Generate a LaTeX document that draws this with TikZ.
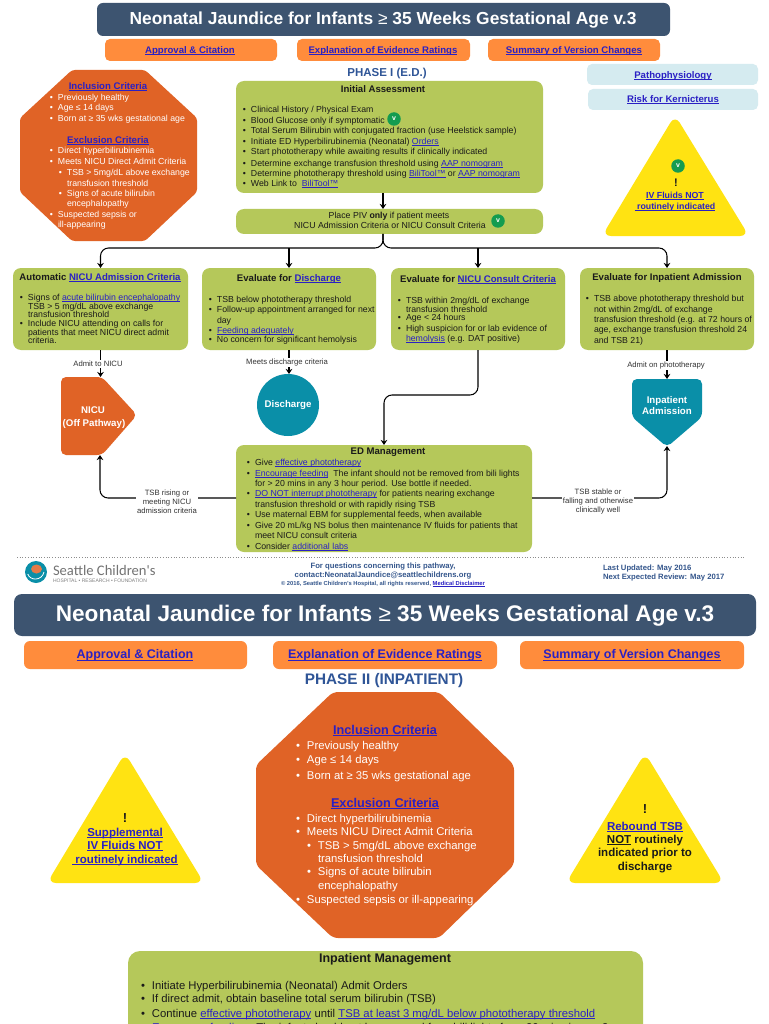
\documentclass[tikz,border=0pt]{standalone}
\usepackage{fontspec}
\setmainfont{Liberation Sans}
\newfontfamily\logofont{Carlito}
\usetikzlibrary{arrows.meta,fit,positioning,shapes.geometric}
\definecolor{gbox}{HTML}{B5C85A}
\definecolor{btn}{HTML}{FF8C3C}
\definecolor{octo}{HTML}{E06326}
\definecolor{ttl}{HTML}{3D5470}
\definecolor{teal}{HTML}{0A8FA8}
\definecolor{yel}{HTML}{FFE312}
\definecolor{lblue}{HTML}{D5EBF0}
\definecolor{lk}{HTML}{2A20C4}
\definecolor{phase}{HTML}{2F5597}
\definecolor{vgreen}{HTML}{149C50}
\definecolor{ink}{HTML}{1A1A1A}
\definecolor{foot}{HTML}{34568C}
\newcounter{tl}
\newcommand\fsz[1]{\fontsize{#1}{#1}\selectfont}
\newcommand\ulin[1]{\setbox0\hbox{#1}\rlap{\rule[-0.14em]{\wd0}{0.075em}}\box0 }
\newcommand\lnk[1]{\textcolor{lk}{\ulin{#1}}}
\newcommand\cen[1]{\smash{#1}\rule{0pt}{0.6em}}
\def\curf{\fsz{8.75}}
\newcommand\txC[4][]{\stepcounter{tl}\node[tx,#1] (t\arabic{tl}) at (#2,#3) {\cen{#4}};}
\newcommand\txL[4][]{\stepcounter{tl}\node[tx,anchor=west,#1] (t\arabic{tl}) at (#2,#3) {\cen{#4}};}
\newcommand\txB[4][]{\txL[#1]{#2}{#3}{\makebox[0pt][r]{•\hspace{\bulgap}}#4}}
\def\bulgap{5pt}
\newcommand\vmark[3]{\node[vcirc] (#1) at (#2,#3) {v};}
\tikzset{
  tx/.style={inner sep=0pt,outer sep=0pt,anchor=center,font=\curf,text=ink,yshift=-1.2pt},
  boxbase/.style={inner sep=0pt,outer sep=0pt,draw=none,rounded corners=#1},
  greenbox/.style={boxbase=8pt,fill=gbox},
  btnbox/.style={boxbase=5pt,fill=btn},
  btnboxb/.style={boxbase=6pt,fill=btn},
  bluebox/.style={boxbase=5pt,fill=lblue},
  titlebox/.style={boxbase=6pt,fill=ttl},
  titleboxb/.style={boxbase=8pt,fill=ttl},
  vcirc/.style={circle,fill=vgreen,text=white,inner sep=0pt,minimum size=13.5pt,font=\bfseries\fsz{7}},
  conn/.style={draw=black,line width=1.05pt,rounded corners=8pt,-{Stealth[length=5pt,width=6.5pt]}},
  lbl/.style={tx,fill=white,font=\fsz{7.7},text=black!80,align=center},
  shapeorange/.style={fill=octo,draw=none},
  shapeyel/.style={fill=yel,draw=none,rounded corners=9pt},
  shapeteal/.style={fill=teal,draw=none,rounded corners=5pt},
  ghost/.style={inner sep=0pt,outer sep=0pt,draw=none},
  ttxt/.style={tx,text=white,font=\bfseries\fsz{9.7}},
  wt/.style={text=white},
  hd/.style={font=\bfseries\fsz{9.6}},
  hdb/.style={font=\bfseries\fsz{12.5}},
  trib/.style={font=\bfseries\fsz{11.5}},
}
\begin{document}
\begin{tikzpicture}[x=1pt,y=-1pt]
\clip (0,0) rectangle (768,1024);
\fill[white] (0,0) rectangle (768,1024);

% ---------- Phase I header
\node[titlebox,fit={(97,3)(670,36)}] (title1) {};
\txC[text=white,font=\bfseries\fsz{17.4}]{383}{18}{Neonatal Jaundice for Infants {\mdseries ≥} 35 Weeks Gestational Age v.3}
\node[btnbox,fit={(105,39)(277,61)}] (b1) {};
\node[btnbox,fit={(297,39)(470,61)}] (b2) {};
\node[btnbox,fit={(488,39)(660,61)}] (b3) {};
\txC[hd]{190}{49}{\lnk{Approval \& Citation}}
\txC[hd]{383}{49}{\lnk{Explanation of Evidence Ratings}}
\txC[hd]{574}{49}{\lnk{Summary of Version Changes}}
\txC[text=phase,font=\bfseries\fsz{11.5}]{387}{71.5}{PHASE I (E.D.)}
\node[bluebox,fit={(587,64)(758,85)}] (patho) {};
\node[bluebox,fit={(588,89)(758,110)}] (risk) {};
\txC[hd]{673}{74}{\lnk{Pathophysiology}}
\txC[hd]{673}{98}{\lnk{Risk for Kernicterus}}

% ---------- Phase I octagon
\path[shapeorange,rounded corners=3pt] (72,70)--(145,70)--(197,118)--(197,192)--(145,241)--(72,241)--(20,192)--(20,118)--cycle;
\txC[hd]{108}{85}{\lnk{Inclusion Criteria}}
\txB[wt]{58}{97}{Previously healthy}
\txB[wt]{58}{107}{Age ≤ 14 days}
\txB[wt]{58}{118}{Born at ≥ 35 wks gestational age}
\txC[hd]{108}{139}{\lnk{Exclusion Criteria}}
\txB[wt]{58}{150}{Direct hyperbilirubinemia}
\txB[wt]{58}{161}{Meets NICU Direct Admit Criteria}
\txB[wt]{67}{172}{TSB > 5mg/dL above exchange}
\txL[wt]{67}{183}{transfusion threshold}
\txB[wt]{67}{193}{Signs of acute bilirubin}
\txL[wt]{67}{203}{encephalopathy}
\txB[wt]{58}{214}{Suspected sepsis or}
\txL[wt]{58}{224}{ill-appearing}

% ---------- Initial assessment
\node[greenbox,fit={(236,81)(543,193)}] (ia) {};
\txC[hd]{383}{88}{Initial Assessment}
\txB{251}{109}{Clinical History / Physical Exam}
\txB{251}{120}{Blood Glucose only if symptomatic}
\txB{251}{130}{Total Serum Bilirubin with conjugated fraction (use Heelstick sample)}
\txB{251}{141}{Initiate ED Hyperbilirubinemia (Neonatal) \lnk{Orders}}
\txB{251}{151}{Start phototherapy while awaiting results if clinically indicated}
\txB{251}{163}{Determine exchange transfusion threshold using \lnk{AAP nomogram}}
\txB{251}{173}{Determine phototherapy threshold using \lnk{BiliTool™} or \lnk{AAP nomogram}}
\txB{251}{183}{Web Link to\ \ \lnk{BiliTool™}}
\vmark{v1}{394}{119}

\node[greenbox,fit={(236,209)(543,234)}] (piv) {};
\txC{389}{215}{Place PIV \textbf{only} if patient meets}
\txC{390}{225}{NICU Admission Criteria or NICU Consult Criteria}
\vmark{v2}{498}{221}

% ---------- Phase I triangle
\path[shapeyel] (675,115)--(749,236)--(602,236)--cycle;
\node[ghost,fit={(607,119)(744,235)}] (tri1) {};
\vmark{v3}{678}{166}
\txC[font=\bfseries\fsz{11}]{676}{182}{!}
\txC[font=\bfseries\fsz{8.8}]{675}{195}{\lnk{IV Fluids NOT}}
\txC[font=\bfseries\fsz{8.8}]{675}{206}{\lnk{\ routinely indicated}}

% ---------- Four criteria boxes
\node[greenbox,fit={(13,268)(188,350)}] (auto) {};
\txC[hd]{100}{276}{Automatic \lnk{NICU Admission Criteria}}
\txB{28}{297}{Signs of \lnk{acute bilirubin encephalopathy}}
\txL{28}{306}{TSB > 5 mg/dL above exchange}
\txL{28}{314}{transfusion threshold}
\txB{28}{323}{Include NICU attending on calls for}
\txL{28}{332}{patients that meet NICU direct admit}
\txL{28}{340}{criteria.}

\node[greenbox,fit={(202,268)(376,350)}] (disc) {};
\txC[hd]{289}{277}{Evaluate for \lnk{Discharge}}
\txB{217}{299}{TSB below phototherapy threshold}
\txB{217}{309}{Follow-up appointment arranged for next}
\txL{217}{320}{day}
\txB{217}{330}{\lnk{Feeding adequately}}
\txB{217}{339}{No concern for significant hemolysis}

\node[greenbox,fit={(391,268)(565,350)}] (cons) {};
\txC[hd]{478}{278}{Evaluate for \lnk{NICU Consult Criteria}}
\txB{406}{300}{TSB within 2mg/dL of exchange}
\txL{406}{309}{transfusion threshold}
\txB{406}{317}{Age < 24 hours}
\txB{406}{328}{High suspicion for or lab evidence of}
\txL{406}{338}{\lnk{hemolysis} (e.g. DAT positive)}

\node[greenbox,fit={(580,268)(754,350)}] (inpt) {};
\txC[hd]{667}{276}{Evaluate for Inpatient Admission}
\txB{594}{298}{TSB above phototherapy threshold but}
\txL{594}{309}{not within 2mg/dL of exchange}
\txL{594}{319}{transfusion threshold (e.g. at 72 hours of}
\txL{594}{329}{age, exchange transfusion threshold 24}
\txL{594}{340}{and TSB 21)}

% ---------- Outcomes
\path[shapeorange,rounded corners=5pt] (61,377)--(102,377)--(137,415)--(102,455)--(61,455)--cycle;
\node[ghost,fit={(61,377)(137,455)}] (nicu) {};
\txC[ttxt]{93}{408}{NICU}
\txC[ttxt]{94}{421}{(Off Pathway)}

\node[circle,fill=teal,minimum size=62pt,inner sep=0pt,outer sep=0pt,text=white,font=\bfseries\fsz{9.7}] (dc) at (288,405) {Discharge};

\path[shapeteal] (632,379)--(702,379)--(702,417)--(667,447)--(632,417)--cycle;
\node[ghost,fit={(632,379)(702,446)}] (ipa) {};
\txC[ttxt]{667}{398}{Inpatient}
\txC[ttxt]{667}{409}{Admission}

% ---------- ED management
\node[greenbox,fit={(236,445)(532,552)}] (ed) {};
\txC[hd]{388}{450}{ED Management}
\txB{255}{462}{Give \lnk{effective phototherapy}}
\txB{255}{473}{\lnk{Encourage feeding}\ \ The infant should not be removed from bili lights}
\txL{255}{483}{for > 20 mins in any 3 hour period. Use bottle if needed.}
\txB{255}{493}{\lnk{DO NOT interrupt phototherapy} for patients nearing exchange}
\txL{255}{503.5}{transfusion threshold or with rapidly rising TSB}
\txB{255}{514}{Use maternal EBM for supplemental feeds, when available}
\txB{255}{525}{Give 20 mL/kg NS bolus then maintenance IV fluids for patients that}
\txL{255}{535}{meet NICU consult criteria}
\txB{255}{545.5}{Consider \lnk{additional labs}}

% ---------- Connectors
\coordinate (busT) at (383,248);
\coordinate (edIn) at (384,395);
\coordinate (riseY) at (100,498);
\coordinate (fallY) at (667,498);
\draw[conn] (ia.south -| busT) -- (piv.north -| busT);
\draw[conn] (piv.south -| busT) -- (busT) -| (auto.north);
\draw[conn] (piv.south -| busT) -- (busT) -| (inpt.north);
\draw[conn] (disc.north |- busT) -- (disc.north);
\draw[conn] (cons.north |- busT) -- (cons.north);
\draw[conn] (auto.south) -- (nicu.north -| auto.south);
\draw[conn] (disc.south) -- (dc.north -| disc.south);
\draw[conn] (inpt.south) -- (ipa.north -| inpt.south);
\draw[conn] (cons.south) |- (edIn) -- (ed.north -| edIn);
\draw[conn] (ed.west |- riseY) -| (nicu.south -| riseY);
\draw[conn] (ed.east |- fallY) -| (ipa.south -| fallY);

% ---------- Connector labels
\node[lbl,inner sep=1pt] (ladm) at (98,363) {Admit to NICU};
\node[lbl,inner sep=1pt] (lmet) at (287,361) {Meets discharge criteria};
\node[lbl,inner sep=1pt] (lpho) at (666,364) {Admit on phototherapy};
\node[lbl,inner sep=1pt] (lrise) at (167,500.5) {TSB rising or\\[1.6pt]meeting NICU\\[1.6pt]admission criteria};
\node[lbl,inner sep=1pt] (lfall) at (598,500.5) {TSB stable or\\[1.6pt]falling and otherwise\\[1.6pt]clinically well};

% ---------- Footer
\draw[black!45,line width=0.7pt,dotted] (17,557) -- (745,557);
\node[circle,fill=teal,minimum size=22pt,inner sep=0pt] (logo) at (36,572) {};
\node[ellipse,fill=octo!85,minimum width=11pt,minimum height=9pt,inner sep=0pt] (logoin) at (36.5,569) {};
\draw[white,line width=0.8pt] (logo.west) ++(3,2) .. controls (30,581) and (42,581) .. (44,572);
\txL[text=black!55,font=\logofont\fsz{14.6}]{53}{569.5}{Seattle Children's}
\txL[text=black!50,font=\fsz{5}]{53}{580}{HOSPITAL • RESEARCH • FOUNDATION}
\txC[text=foot,font=\bfseries\fsz{7.7}]{383}{565}{For questions concerning this pathway,}
\txC[text=foot,font=\bfseries\fsz{7.7}]{383}{574}{contact:NeonatalJaundice@seattlechildrens.org}
\txC[text=foot,font=\bfseries\fsz{5.8}]{383}{583}{© 2016, Seattle Children's Hospital, all rights reserved, \lnk{Medical Disclaimer}}
\txL[text=foot,font=\bfseries\fsz{7.7}]{603}{566.5}{Last Updated: May 2016}
\txL[text=foot,font=\bfseries\fsz{7.7}]{603}{576}{Next Expected Review: May 2017}

% ---------- Phase II header
\node[titleboxb,fit={(14,594)(756,636)}] (title2) {};
\txC[text=white,font=\bfseries\fsz{22.6}]{385}{614}{Neonatal Jaundice for Infants {\mdseries ≥} 35 Weeks Gestational Age v.3}
\node[btnboxb,fit={(24,641)(247,669)}] (c1) {};
\node[btnboxb,fit={(273,641)(497,669)}] (c2) {};
\node[btnboxb,fit={(520,641)(744,669)}] (c3) {};
\txC[hdb]{135}{654}{\lnk{Approval \& Citation}}
\txC[hdb]{385}{654}{\lnk{Explanation of Evidence Ratings}}
\txC[hdb]{632}{654}{\lnk{Summary of Version Changes}}
\txC[text=phase,font=\bfseries\fsz{15.3}]{384}{679}{PHASE II (INPATIENT)}

% ---------- Phase II octagon
\path[shapeorange,rounded corners=5pt] (333,692)--(439,692)--(514,765)--(514,865)--(439,938)--(333,938)--(256,865)--(256,765)--cycle;
\def\curf{\fsz{11.3}}
\def\bulgap{7pt}
\txC[font=\bfseries\fsz{12.7}]{385}{729}{\lnk{Inclusion Criteria}}
\txB[wt]{307}{744.5}{Previously healthy}
\txB[wt]{307}{759}{Age ≤ 14 days}
\txB[wt]{307}{775}{Born at ≥ 35 wks gestational age}
\txC[font=\bfseries\fsz{12.7}]{385}{802}{\lnk{Exclusion Criteria}}
\txB[wt]{307}{817.5}{Direct hyperbilirubinemia}
\txB[wt]{307}{831}{Meets NICU Direct Admit Criteria}
\txB[wt]{318}{845}{TSB > 5mg/dL above exchange}
\txL[wt]{318}{858}{transfusion threshold}
\txB[wt]{318}{871}{Signs of acute bilirubin}
\txL[wt]{318}{885}{encephalopathy}
\txB[wt]{307}{899}{Suspected sepsis or ill-appearing}

% ---------- Phase II triangles
\path[shapeyel] (125,753)--(204,883)--(47,883)--cycle;
\node[ghost,fit={(52,757)(199,882)}] (tri2) {};
\txC[font=\bfseries\fsz{13}]{125}{817}{!}
\txC[trib]{125}{832}{\lnk{Supplemental}}
\txC[trib]{125}{845}{\lnk{IV Fluids NOT}}
\txC[trib]{125}{859}{\lnk{\ routinely indicated}}

\path[shapeyel] (645,753)--(724,883)--(566,883)--cycle;
\node[ghost,fit={(571,757)(718,882)}] (tri3) {};
\txC[font=\bfseries\fsz{13}]{645}{808}{!}
\txC[trib]{645}{826}{\lnk{Rebound TSB}}
\txC[trib]{645}{839}{\ulin{NOT} routinely}
\txC[trib]{645}{852}{indicated prior to}
\txC[trib]{645}{866}{discharge}

% ---------- Inpatient management
\node[boxbase=12pt,fill=gbox,fit={(128,951)(643,1060)}] (ipm) {};
\txC[font=\bfseries\fsz{12.5}]{385}{957.5}{Inpatient Management}
\txB{152}{985}{Initiate Hyperbilirubinemia (Neonatal) Admit Orders}
\txB{152}{998}{If direct admit, obtain baseline total serum bilirubin (TSB)}
\txB{152}{1013}{Continue \lnk{effective phototherapy} until \lnk{TSB at least 3 mg/dL below phototherapy threshold}}
\txB{152}{1026.5}{\lnk{Encourage feeding}.\ \ The infant should not be removed from bili lights for > 20 mins in any 3}
\end{tikzpicture}
\end{document}
